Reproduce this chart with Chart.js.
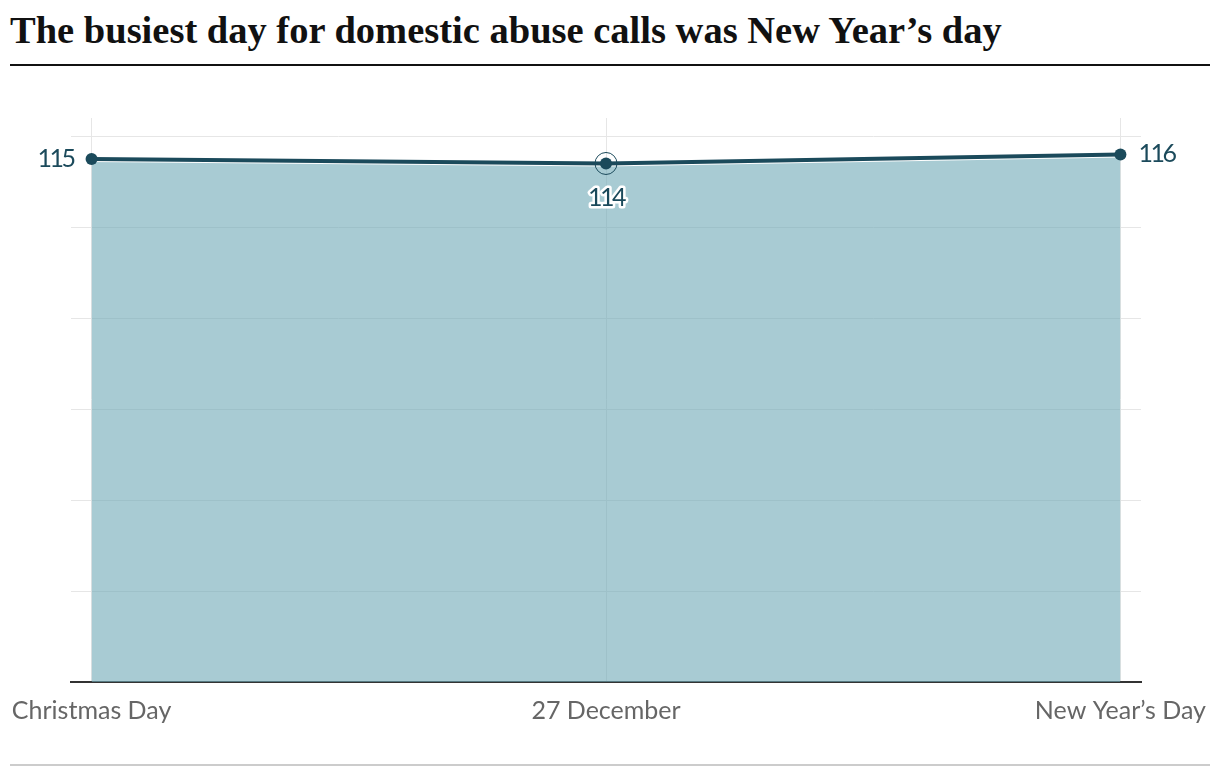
<!DOCTYPE html>
<html>
<head>
<meta charset="utf-8">
<script src="https://cdn.jsdelivr.net/npm/chart.js@4.4.1/dist/chart.umd.min.js"></script>
<style>
  body { margin: 0; background: #fff; width: 1220px; height: 778px; position: relative; overflow: hidden; }
  h1 { position: absolute; left: 10px; top: 8px; margin: 0; font: bold 38.5px "Liberation Serif", serif; color: #111; white-space: nowrap; }
  .rule { position: absolute; left: 10px; width: 1200px; }
  #topRule { top: 64px; height: 2px; background: #111; }
  #bottomRule { top: 764px; height: 2px; background: #ccc; }
  #chart { position: absolute; left: 0; top: 0; }
</style>
</head>
<body>
<h1>The busiest day for domestic abuse calls was New Year’s day</h1>
<div class="rule" id="topRule"></div>
<div class="rule" id="bottomRule"></div>
<canvas id="chart" width="1220" height="778"></canvas>
<script>
var days = ["Christmas Day", "27 December", "New Year’s Day"];
var calls = [115, 114, 116];
var yGrid = [0, 20, 40, 60, 80, 100, 120];

var lineColor = "#1b4a5b";
var points = calls.map(function(v, i) { return { x: i, y: v }; });

// value labels next to the points
var valueLabels = {
  id: "valueLabels",
  afterDatasetsDraw: function(chart) {
    var ctx = chart.ctx;
    var meta = chart.getDatasetMeta(1);
    ctx.save();
    ctx.font = "25px Lato";
    ctx.letterSpacing = "-2.5px";
    ctx.textBaseline = "middle";
    meta.data.forEach(function(pt, i) {
      var txt = String(calls[i]);
      if (i === 0) {
        ctx.textAlign = "right";
        ctx.fillStyle = lineColor;
        ctx.fillText(txt, pt.x - 18, pt.y);
      } else if (i === calls.length - 1) {
        ctx.textAlign = "left";
        ctx.fillStyle = lineColor;
        ctx.fillText(txt, pt.x + 18, pt.y);
      } else {
        ctx.textAlign = "center";
        ctx.lineWidth = 5;
        ctx.lineJoin = "round";
        ctx.strokeStyle = "#fff";
        ctx.strokeText(txt, pt.x, pt.y + 34);
        ctx.fillStyle = lineColor;
        ctx.fillText(txt, pt.x, pt.y + 34);
      }
    });
    ctx.restore();
  }
};

new Chart(document.getElementById("chart"), {
  type: "line",
  data: {
    datasets: [
      {
        data: points,
        fill: "origin",
        backgroundColor: "rgba(110,168,182,0.6)",
        borderColor: "#fff",
        borderWidth: 6,
        pointRadius: 0,
        order: 3
      },
      {
        data: points,
        fill: false,
        borderColor: lineColor,
        borderWidth: 4,
        pointRadius: 6,
        pointBackgroundColor: lineColor,
        pointBorderWidth: 0,
        order: 2
      },
      {
        data: points,
        showLine: false,
        pointRadius: [0, 11, 0],
        pointBackgroundColor: "rgba(0,0,0,0)",
        pointBorderColor: lineColor,
        pointBorderWidth: 1,
        order: 1
      }
    ]
  },
  options: {
    responsive: false,
    animation: false,
    layout: { padding: { left: 71, right: 79, top: 118, bottom: 36 } },
    plugins: { legend: { display: false }, tooltip: { enabled: false } },
    scales: {
      x: {
        type: "linear",
        min: -0.04,
        max: 2.04,
        afterBuildTicks: function(scale) {
          scale.ticks = days.map(function(d, i) { return { value: i }; });
        },
        afterFit: function(scale) {
          scale.height = 60;
          // labels may hang past the plot edges, don't shrink the plot for them
          scale.paddingLeft = 0;
          scale.paddingRight = 0;
        },
        grid: { color: "#e6e6e6", lineWidth: 1, drawTicks: false },
        border: { color: "#333", width: 2 },
        ticks: {
          autoSkip: false,
          maxRotation: 0,
          padding: 14,
          color: "#666",
          font: { family: "Lato", size: 25 },
          callback: function(v) { return days[v]; }
        }
      },
      y: {
        min: 0,
        max: 124,
        afterBuildTicks: function(scale) {
          scale.ticks = yGrid.map(function(v) { return { value: v }; });
        },
        afterFit: function(scale) { scale.width = 0; },
        grid: { color: "#e6e6e6", lineWidth: 1, drawTicks: false },
        border: { display: false },
        ticks: { display: false }
      }
    }
  },
  plugins: [valueLabels]
});
</script>
</body>
</html>
